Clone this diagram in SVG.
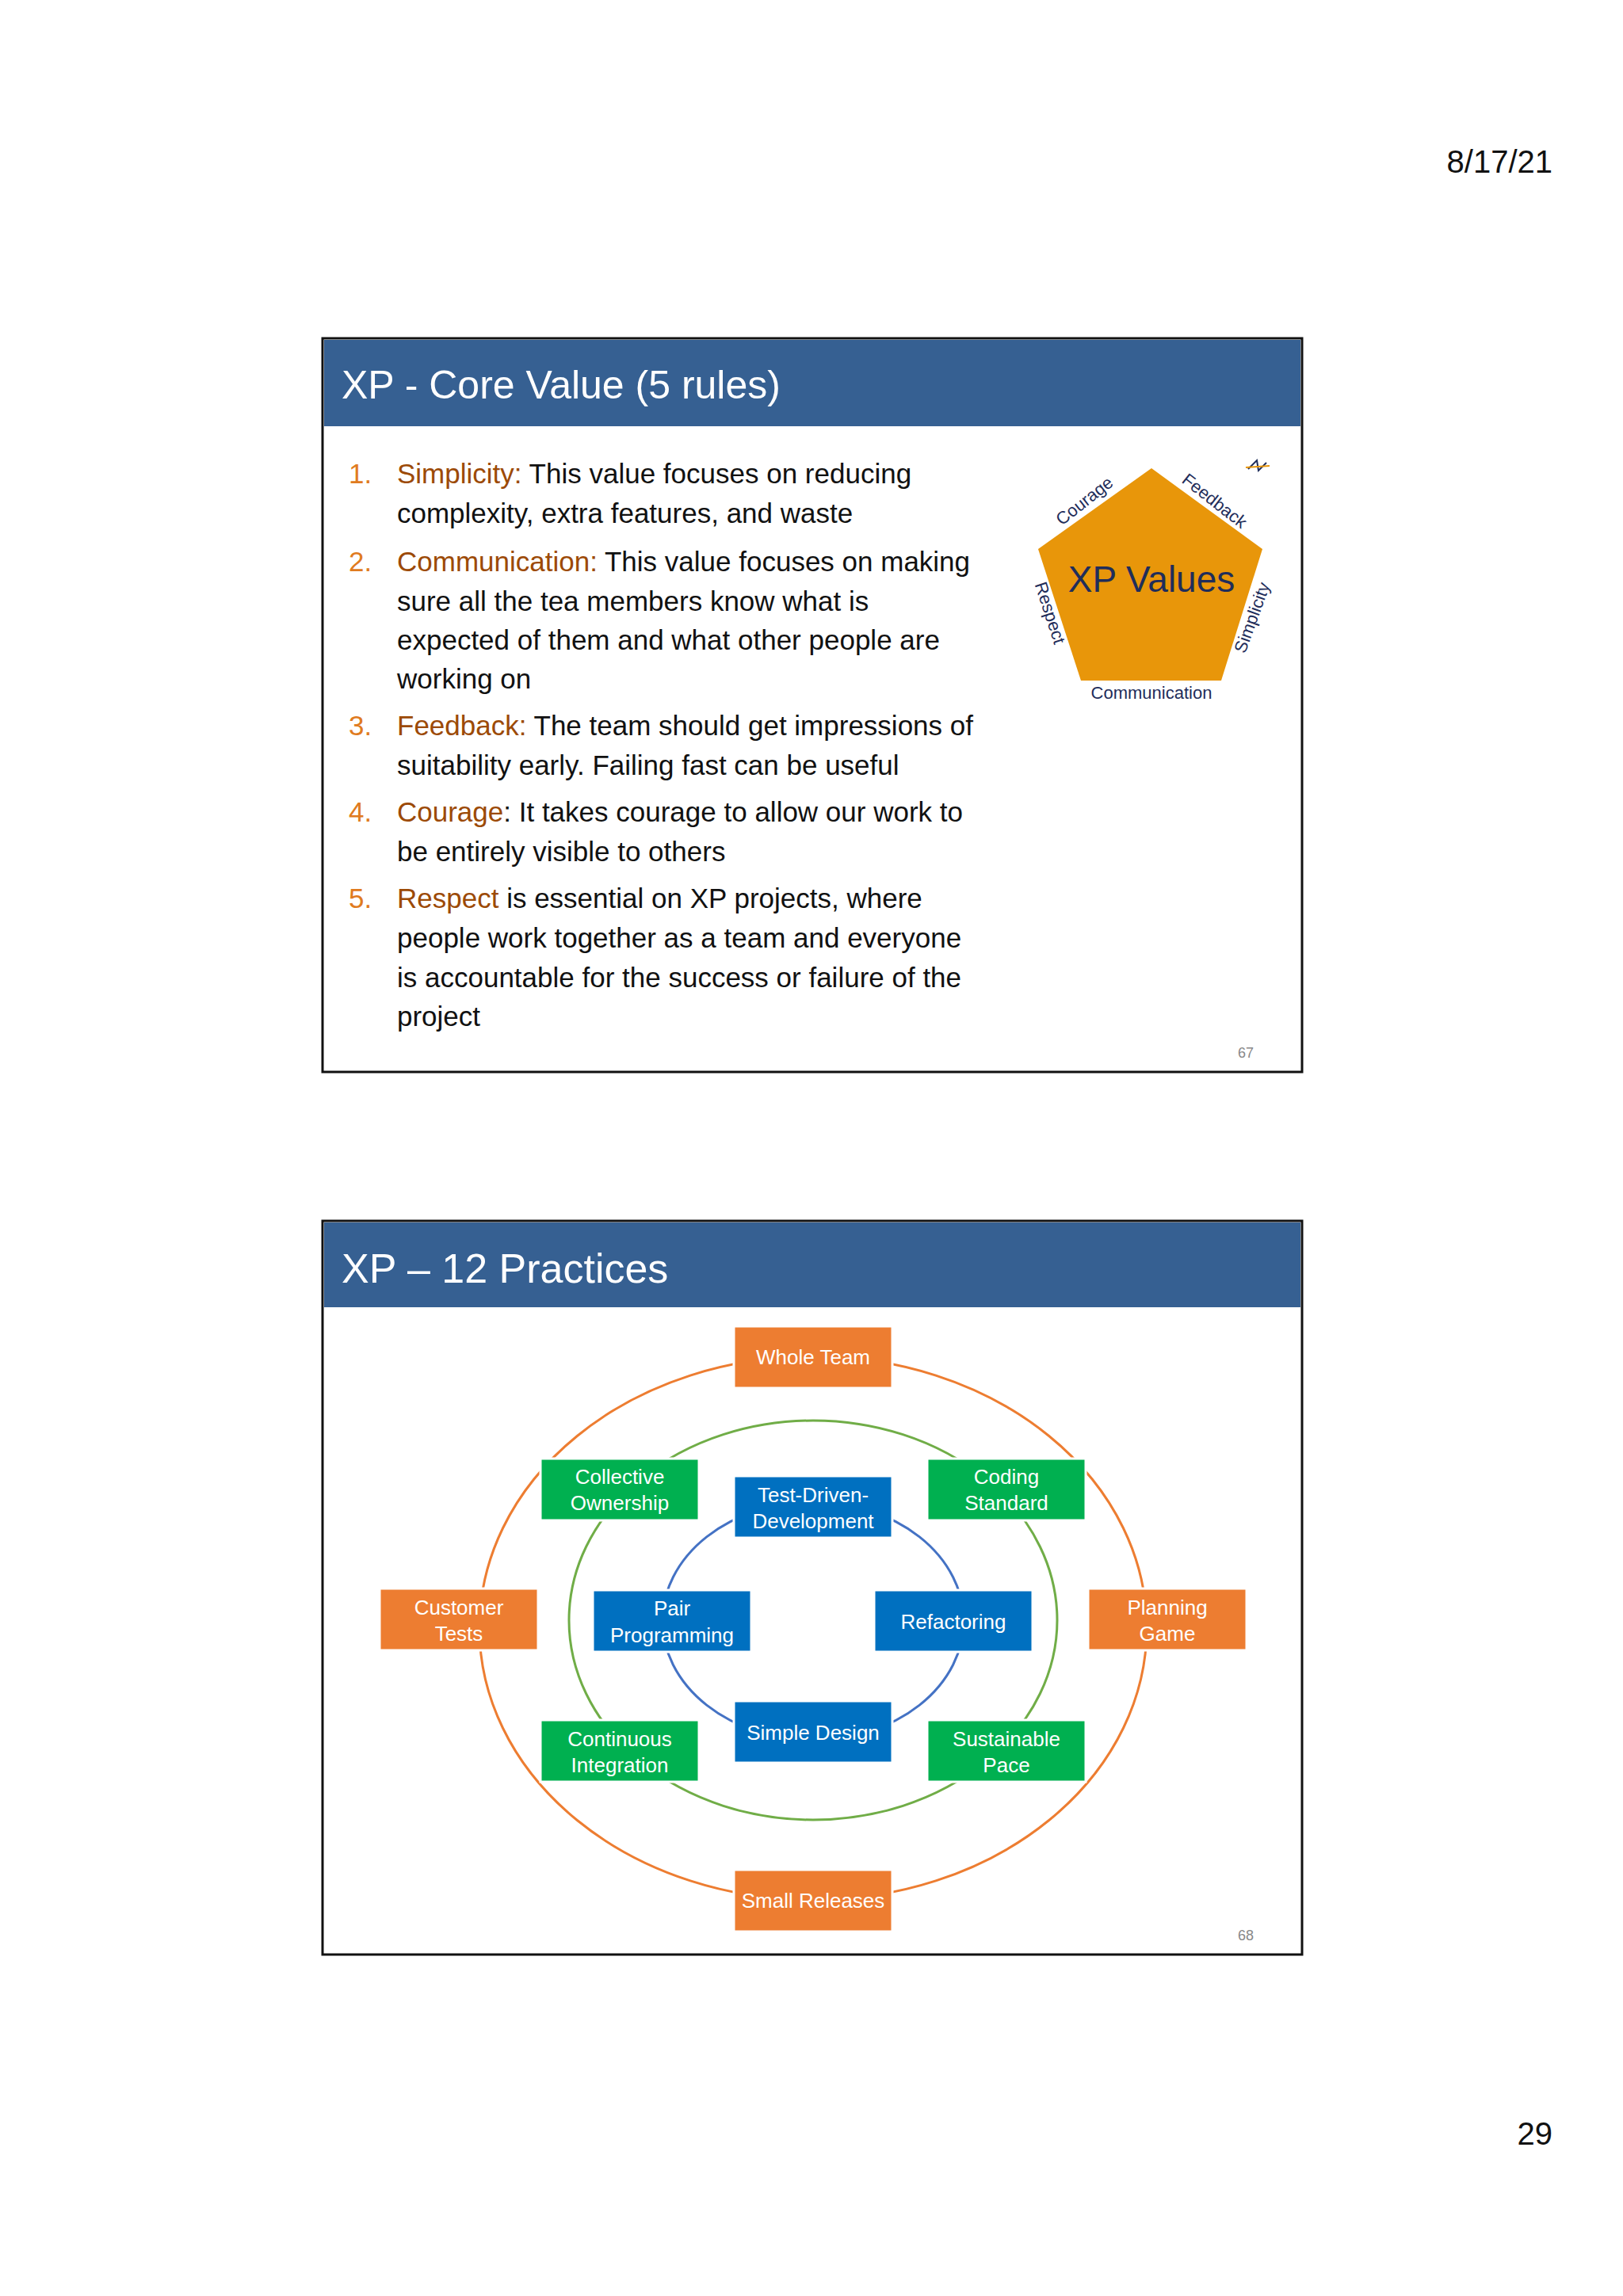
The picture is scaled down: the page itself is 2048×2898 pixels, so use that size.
<svg xmlns="http://www.w3.org/2000/svg" width="2048" height="2898" viewBox="0 0 2048 2898">
<style>
.t{font-family:"Liberation Sans",Arial,sans-serif}
.li{font-size:35px;fill:#111}
.num{fill:#E07B20}
.kw{fill:#9C4A06}
.bx{stroke:#fff;stroke-width:3}
.bt{font-family:"Liberation Sans",Arial,sans-serif;font-size:26px;fill:#fff;text-anchor:middle}
.pl{font-family:"Liberation Sans",Arial,sans-serif;font-size:22px;fill:#1F2D5A;text-anchor:middle}
</style>
<rect width="2048" height="2898" fill="#fff"/>
<text class="t" x="1959" y="218" font-size="40" text-anchor="end" fill="#111">8/17/21</text>
<text class="t" x="1959" y="2707" font-size="40" text-anchor="end" fill="#111">29</text>

<g id="slide1">
<rect x="407" y="427" width="1236" height="926" fill="#fff" stroke="#111" stroke-width="3"/>
<rect x="409" y="429" width="1232" height="109" fill="#366092"/>
<text class="t" x="431" y="503" font-size="50" fill="#fff">XP - Core Value (5 rules)</text>
<g class="t li">
<text x="440" y="610"><tspan class="num">1.</tspan></text>
<text x="501" y="610"><tspan class="kw">Simplicity:</tspan> This value focuses on reducing</text>
<text x="501" y="660">complexity, extra features, and waste</text>
<text x="440" y="721"><tspan class="num">2.</tspan></text>
<text x="501" y="721"><tspan class="kw">Communication:</tspan> This value focuses on making</text>
<text x="501" y="771">sure all the tea members know what is</text>
<text x="501" y="820">expected of them and what other people are</text>
<text x="501" y="869">working on</text>
<text x="440" y="928"><tspan class="num">3.</tspan></text>
<text x="501" y="928"><tspan class="kw">Feedback:</tspan> The team should get impressions of</text>
<text x="501" y="978">suitability early. Failing fast can be useful</text>
<text x="440" y="1037"><tspan class="num">4.</tspan></text>
<text x="501" y="1037"><tspan class="kw">Courage</tspan>: It takes courage to allow our work to</text>
<text x="501" y="1087">be entirely visible to others</text>
<text x="440" y="1146"><tspan class="num">5.</tspan></text>
<text x="501" y="1146"><tspan class="kw">Respect</tspan> is essential on XP projects, where</text>
<text x="501" y="1196">people work together as a team and everyone</text>
<text x="501" y="1246">is accountable for the success or failure of the</text>
<text x="501" y="1295">project</text>
</g>
<g id="pentagon">
<polygon points="1453,591 1593,693 1541,859 1364,859 1310,693" fill="#E8960A"/>
<text class="t" x="1453" y="747" font-size="46" text-anchor="middle" fill="#1F2D5A">XP Values</text>
<text class="pl" transform="translate(1373,638) rotate(-38)">Courage</text>
<text class="pl" transform="translate(1528,638) rotate(38)">Feedback</text>
<text class="pl" transform="translate(1587,782) rotate(-70)">Simplicity</text>
<text class="pl" transform="translate(1318,776) rotate(72)">Respect</text>
<text class="pl" x="1453" y="882">Communication</text>
<polyline points="1575,592 1586,581 1588,594 1598,584" fill="none" stroke="#1F2D5A" stroke-width="2"/>
<line x1="1572" y1="590" x2="1602" y2="588" stroke="#E8960A" stroke-width="2"/>
</g>
<text class="t" x="1572" y="1335" font-size="18" text-anchor="middle" fill="#888">67</text>
</g>

<g id="slide2">
<rect x="407" y="1541" width="1236" height="926" fill="#fff" stroke="#111" stroke-width="3"/>
<rect x="409" y="1543" width="1232" height="107" fill="#366092"/>
<text class="t" x="431" y="1619" font-size="52" fill="#fff">XP – 12 Practices</text>
<text class="t" x="1572" y="2449" font-size="18" text-anchor="middle" fill="#888">68</text>
</g>

<g id="connectors" fill="none" stroke-width="3">
<ellipse cx="1026" cy="2055" rx="421" ry="343" stroke="#ED7D31"/>
<ellipse cx="1026" cy="2045" rx="308" ry="252" stroke="#70AD47"/>
<ellipse cx="1026" cy="2046" rx="190" ry="150" stroke="#4472C4"/>
</g>

<g id="whole-team"><rect class="bx" x="926" y="1674" width="200" height="78" fill="#ED7D31"/><text class="bt" x="1026" y="1722">Whole Team</text></g>
<g id="collective-ownership"><rect class="bx" x="682" y="1841" width="200" height="78" fill="#00B050"/><text class="bt" x="782" y="1873">Collective</text><text class="bt" x="782" y="1906">Ownership</text></g>
<g id="coding-standard"><rect class="bx" x="1170" y="1841" width="200" height="78" fill="#00B050"/><text class="bt" x="1270" y="1873">Coding</text><text class="bt" x="1270" y="1906">Standard</text></g>
<g id="tdd"><rect class="bx" x="926" y="1863" width="200" height="78" fill="#0070C0"/><text class="bt" x="1026" y="1896">Test-Driven-</text><text class="bt" x="1026" y="1929">Development</text></g>
<g id="customer-tests"><rect class="bx" x="479" y="2005" width="200" height="78" fill="#ED7D31"/><text class="bt" x="579" y="2038">Customer</text><text class="bt" x="579" y="2071">Tests</text></g>
<g id="pair-programming"><rect class="bx" x="748" y="2007" width="200" height="78" fill="#0070C0"/><text class="bt" x="848" y="2039">Pair</text><text class="bt" x="848" y="2073">Programming</text></g>
<g id="refactoring"><rect class="bx" x="1103" y="2007" width="200" height="78" fill="#0070C0"/><text class="bt" x="1203" y="2056">Refactoring</text></g>
<g id="planning-game"><rect class="bx" x="1373" y="2005" width="200" height="78" fill="#ED7D31"/><text class="bt" x="1473" y="2038">Planning</text><text class="bt" x="1473" y="2071">Game</text></g>
<g id="simple-design"><rect class="bx" x="926" y="2147" width="200" height="78" fill="#0070C0"/><text class="bt" x="1026" y="2196">Simple Design</text></g>
<g id="continuous-integration"><rect class="bx" x="682" y="2171" width="200" height="78" fill="#00B050"/><text class="bt" x="782" y="2204">Continuous</text><text class="bt" x="782" y="2237">Integration</text></g>
<g id="sustainable-pace"><rect class="bx" x="1170" y="2171" width="200" height="78" fill="#00B050"/><text class="bt" x="1270" y="2204">Sustainable</text><text class="bt" x="1270" y="2237">Pace</text></g>
<g id="small-releases"><rect class="bx" x="926" y="2360" width="200" height="78" fill="#ED7D31"/><text class="bt" x="1026" y="2408">Small Releases</text></g>
</svg>
